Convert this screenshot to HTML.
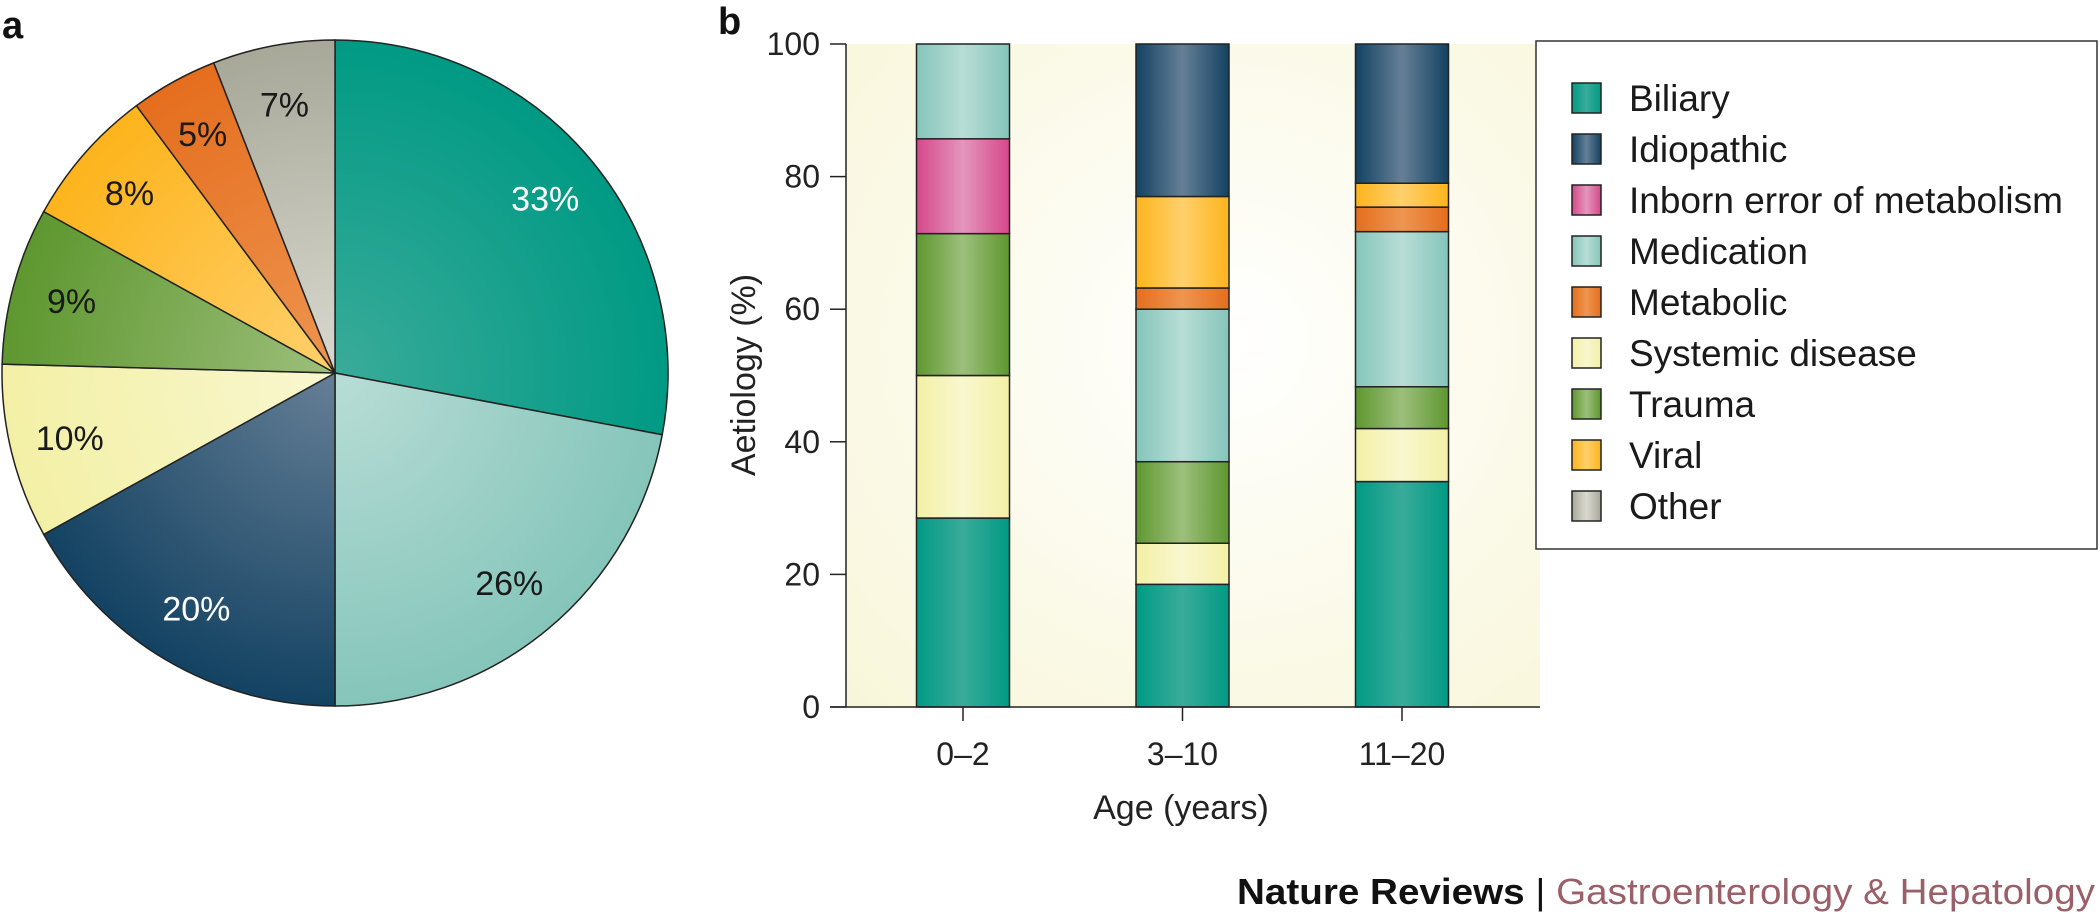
<!DOCTYPE html>
<html><head><meta charset="utf-8">
<style>
html,body{margin:0;padding:0;background:#fff;}
svg{display:block;font-family:"Liberation Sans",sans-serif;}
</style></head>
<body>
<svg id="chart" width="2100" height="916" viewBox="0 0 2100 916" xmlns="http://www.w3.org/2000/svg">
<defs>
  <radialGradient id="plotbg" cx="0.55" cy="0.45" r="0.8">
    <stop offset="0" stop-color="#ffffff"/>
    <stop offset="1" stop-color="#f8f6d8"/>
  </radialGradient>
</defs>
<text x="2" y="38" font-size="38" font-weight="bold" fill="#111">a</text>
<text x="718" y="34" font-size="38" font-weight="bold" fill="#111">b</text>
<g id="pie"></g>
<g id="bars"></g>
<g id="legend"></g>
<text x="1237" y="904" font-size="36" textLength="858" lengthAdjust="spacingAndGlyphs"><tspan font-weight="bold" fill="#111">Nature Reviews</tspan><tspan fill="#111"> | </tspan><tspan fill="#9b5f68">Gastroenterology &amp; Hepatology</tspan></text>
</svg>
<script>
// ---- data ----
const pieCategories = ["Biliary","Medication","Idiopathic","Systemic disease","Trauma","Viral","Metabolic","Other"];
const pieValues = [33,26,20,10,9,8,5,7];
const pieLabels = ["33%","26%","20%","10%","9%","8%","5%","7%"];
const ageGroups = ["0–2","3–10","11–20"];
const stackOrder = ["Biliary","Systemic disease","Trauma","Inborn error of metabolism","Medication","Metabolic","Viral","Idiopathic"];
const biliaryVals = [28.5,18.5,34];
const systemicVals = [21.5,6.2,8];
const traumaVals = [21.4,12.3,6.3];
const inbornVals = [14.3,0,0];
const medicationVals = [14.3,23,23.4];
const metabolicVals = [0,3.2,3.7];
const viralVals = [0,13.8,3.6];
const idiopathicVals = [0,23,21];
const yTicks = [0,20,40,60,80,100];
const legendItems = ["Biliary","Idiopathic","Inborn error of metabolism","Medication","Metabolic","Systemic disease","Trauma","Viral","Other"];

const colors = {
  "Biliary":"#009a84","Idiopathic":"#134262","Inborn error of metabolism":"#d6488a",
  "Medication":"#85c5ba","Metabolic":"#e56e1e","Systemic disease":"#f3f0a6",
  "Trauma":"#5e972f","Viral":"#fdb41c","Other":"#a8a899"};
const light = {
  "Biliary":"#3aab9a","Idiopathic":"#667f96","Inborn error of metabolism":"#e396bd",
  "Medication":"#b8ddd6","Metabolic":"#ee9550","Systemic disease":"#f9f7cf",
  "Trauma":"#9dbf7c","Viral":"#fed06c","Other":"#d9d9d0"};

const NS = "http://www.w3.org/2000/svg";
const svg = document.getElementById('chart');
const defs = svg.querySelector('defs');
function mk(tag, attrs, parent){
  const e = document.createElementNS(NS, tag);
  for (const k in attrs) e.setAttribute(k, attrs[k]);
  if (parent) parent.appendChild(e);
  return e;
}
const cx=335, cy=373, R=333;
Object.keys(colors).forEach((k,i)=>{
  const g = mk('linearGradient',{id:'hg'+i,x1:0,x2:1,y1:0,y2:0},defs);
  mk('stop',{offset:0,'stop-color':colors[k]},g);
  mk('stop',{offset:0.5,'stop-color':light[k]},g);
  mk('stop',{offset:1,'stop-color':colors[k]},g);
  const r = mk('radialGradient',{id:'rg'+i,gradientUnits:'userSpaceOnUse',cx:cx,cy:cy,r:R},defs);
  mk('stop',{offset:0,'stop-color':light[k]},r);
  mk('stop',{offset:1,'stop-color':colors[k]},r);
});
const keyIdx = k => Object.keys(colors).indexOf(k);

// ---- pie ----
const pie = document.getElementById('pie');
const total = pieValues.reduce((a,b)=>a+b,0);
let acc = 0;
pieValues.forEach((v,i)=>{
  const a0 = acc/total*2*Math.PI, a1 = (acc+v)/total*2*Math.PI;
  acc += v;
  const x0=cx+R*Math.sin(a0), y0=cy-R*Math.cos(a0), x1=cx+R*Math.sin(a1), y1=cy-R*Math.cos(a1);
  const large = (a1-a0)>Math.PI?1:0;
  const p = mk('path',{d:`M${cx},${cy}L${x0},${y0}A${R},${R} 0 ${large} 1 ${x1},${y1}Z`,
    fill:`url(#rg${keyIdx(pieCategories[i])})`,stroke:'#222','stroke-width':1.5},pie);
  
  
  const am=(a0+a1)/2, lr = R*0.82;
  const t = mk('text',{x:cx+lr*Math.sin(am),y:cy-lr*Math.cos(am)+12,'text-anchor':'middle','font-size':34,
    fill:(i===0||i===2)?'#fff':'#1a1a1a'},pie);
  t.textContent = pieLabels[i];
  
  
});

// ---- bar chart ----
const bars = document.getElementById('bars');
const X0=846, Y0=707, Ytop=44, plotRight=1540;
const yScale = v => Y0 - (v/100)*(Y0-Ytop);
const centers = [963,1181,1402];
const xScale = i => centers[0] + i*(centers[2]-centers[0])/(ageGroups.length-1);
const bw = 93;
const bgRect = mk('rect',{x:X0,y:Ytop,width:plotRight-X0,height:Y0-Ytop,fill:'url(#plotbg)'},bars);


const seriesVals = {"Biliary":biliaryVals,"Systemic disease":systemicVals,"Trauma":traumaVals,
  "Inborn error of metabolism":inbornVals,"Medication":medicationVals,"Metabolic":metabolicVals,
  "Viral":viralVals,"Idiopathic":idiopathicVals};
ageGroups.forEach((g,i)=>{
  let base = 0;
  stackOrder.forEach(s=>{
    const v = seriesVals[s][i];
    if (v<=0) return;
    const r = mk('rect',{x:xScale(i)-bw/2,y:yScale(base+v),width:bw,height:yScale(base)-yScale(base+v),
      fill:`url(#hg${keyIdx(s)})`,stroke:'#222','stroke-width':1.5},bars);
    
    
    base += v;
  });
  const tk = mk('line',{x1:xScale(i),x2:xScale(i),y1:Y0,y2:Y0+14,stroke:'#222','stroke-width':1.5},bars);
  
  
  const tl = mk('text',{x:xScale(i),y:Y0+58,'text-anchor':'middle','font-size':32,fill:'#222'},bars);
  tl.textContent = g;
  
  
});
const yAxis = mk('line',{x1:X0,x2:X0,y1:Ytop,y2:Y0,stroke:'#222','stroke-width':1.5},bars);


const xAxis = mk('line',{x1:830,x2:plotRight,y1:Y0,y2:Y0,stroke:'#222','stroke-width':1.5},bars);


yTicks.forEach(v=>{
  const l = mk('line',{x1:830,x2:X0,y1:yScale(v),y2:yScale(v),stroke:'#222','stroke-width':1.5},bars);
  
  
  const t = mk('text',{x:820,y:yScale(v)+11,'text-anchor':'end','font-size':32,fill:'#222'},bars);
  t.textContent = v;
  
  
});
const xt = mk('text',{x:1181,y:819,'text-anchor':'middle','font-size':34,fill:'#222'},bars);
xt.textContent = 'Age (years)';


const yt = mk('text',{x:0,y:0,'text-anchor':'middle','font-size':34,fill:'#222',transform:'translate(755,375) rotate(-90)'},bars);
yt.textContent = 'Aetiology (%)';



// ---- legend ----
const lg = document.getElementById('legend');
const box = mk('rect',{x:1536,y:41,width:561,height:508,fill:'#fff',stroke:'#333','stroke-width':1.5},lg);


legendItems.forEach((s,i)=>{
  const y = 98 + i*51;
  const sw = mk('rect',{x:1572,y:y-15,width:29,height:30,fill:`url(#hg${keyIdx(s)})`,stroke:'#222','stroke-width':1.5},lg);
  
  
  const t = mk('text',{x:1629,y:y+13,'font-size':37,fill:'#1a1a1a'},lg);
  t.textContent = s;
  
  
});
</script>
</body></html>
